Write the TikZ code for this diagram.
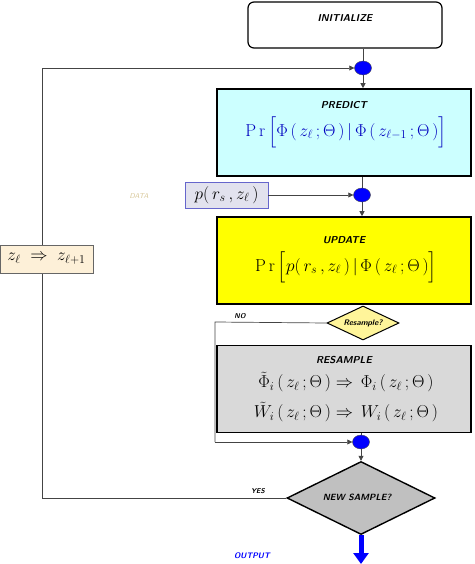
\documentclass[tikz,border=0pt]{standalone}
\usepackage{amsmath}
\usetikzlibrary{shapes.geometric,arrows.meta}
\definecolor{predfill}{HTML}{CCFFFF}
\definecolor{updfill}{HTML}{FFFF00}
\definecolor{resfill}{HTML}{D9D9D9}
\definecolor{diafill}{HTML}{FFF59A}
\definecolor{nsfill}{HTML}{C0C0C0}
\definecolor{pfill}{HTML}{E2E2EE}
\definecolor{pdraw}{HTML}{6666CC}
\definecolor{zfill}{HTML}{FDF0D8}
\definecolor{datacol}{HTML}{D8C89A}
\definecolor{linecol}{HTML}{444444}
\tikzset{
  bigbox/.style={draw=black, line width=1.6pt, minimum width=254pt, minimum height=87pt, inner sep=0pt},
  title/.style={font=\sffamily\bfseries\itshape\normalsize, inner sep=1pt},
  formula/.style={font=\LARGE, inner sep=0pt},
  dot/.style={ellipse, draw=black!70, fill=blue, minimum width=17pt, minimum height=14pt, inner sep=0pt},
  conn/.style={draw=linecol, line width=0.7pt},
  arr/.style={conn, -{Triangle[length=5pt,width=5pt]}},
  lab/.style={font=\sffamily\bfseries\itshape\scriptsize, inner sep=1pt},
}
\begin{document}
\begin{tikzpicture}[x=1pt,y=-1pt]
\useasboundingbox (0,0) rectangle (474,564);
% INITIALIZE
\node[draw=black, line width=1.2pt, rounded corners=6pt, minimum width=194pt, minimum height=46pt, inner sep=0pt] (init) at (345,25) {};
\node[title] (initT) at (345,18) {INITIALIZE};
% dots
\node[dot] (e1) at (363,68) {};
\node[dot] (e2) at (362,195) {};
\node[dot] (e3) at (361,442) {};
% PREDICT
\node[bigbox, fill=predfill] (pred) at (344,132.5) {};
\node[title] (predT) at (344,105) {PREDICT};
\node[formula, text=blue!75!black] (predF) at (346,132) {$\mathrm{P\,r}\,\Bigl[\Phi\,(\,z_\ell\,;\Theta\,)\,|\,\Phi\,(\,z_{\ell-1}\,;\Theta\,)\Bigr]$};
% UPDATE
\node[bigbox, fill=updfill] (upd) at (344,260.5) {};
\node[title] (updT) at (344,240) {UPDATE};
\node[formula] (updF) at (346,267) {$\mathrm{P\,r}\,\Bigl[p(\,r_s\,,z_\ell\,)\,|\,\Phi\,(\,z_\ell\,;\Theta\,)\Bigr]$};
% Resample diamond
\node[diamond, draw=black, line width=1pt, fill=diafill, aspect=2.1, minimum width=72pt, minimum height=34pt, inner sep=0pt] (rsq) at (363,323) {};
\node[lab, font=\sffamily\bfseries\itshape\footnotesize] (rsqT) at (363,323) {Resample?};
% RESAMPLE
\node[bigbox, fill=resfill] (res) at (344,389) {};
\node[title] (resT) at (344,360) {RESAMPLE};
\node[formula] (resF1) at (346,382) {$\tilde{\Phi}_i\,(\,z_\ell\,;\Theta\,)\Rightarrow\,\Phi_i\,(\,z_\ell\,;\Theta\,)$};
\node[formula] (resF2) at (346,412) {$\tilde{W}_i\,(\,z_\ell\,;\Theta\,)\Rightarrow\,W_i\,(\,z_\ell\,;\Theta\,)$};
% NEW SAMPLE diamond
\node[diamond, draw=black, line width=1.4pt, fill=nsfill, aspect=2.0, minimum width=148pt, minimum height=73pt, inner sep=0pt] (ns) at (361,498) {};
\node[lab, font=\sffamily\bfseries\itshape\small] (nsT) at (357,497) {NEW SAMPLE?};
% data box
\node[draw=pdraw, fill=pfill, line width=0.8pt, minimum width=83pt, minimum height=26pt, inner sep=0pt, font=\LARGE] (pbox) at (226.5,195) {$p(\,r_s\,,z_\ell\,)$};
\node[font=\sffamily\itshape\scriptsize, text=datacol] (data) at (139,196) {DATA};
% coordinates for loops
\coordinate (yl) at (42,498);
\coordinate (tl) at (42,68);
\coordinate (nl) at (215,322);
\coordinate (nb) at (215,442);
\coordinate (out) at (361,564);
% connectors
\draw[conn] (init.south -| e1) -- (e1.north);
\draw[arr] (e1.south) -- (e1.south |- pred.north);
\draw[conn] (pred.south -| e2) -- (e2.north);
\draw[arr] (pbox.east) -- (e2.west);
\draw[arr] (e2.south) -- (e2.south |- upd.north);
\draw[conn] (rsq.west) -- (nl) -- (nb);
\draw[arr] (nb) -- (e3.west);
\draw[conn] (res.south -| e3) -- (e3.north);
\draw[arr] (e3.south) -- (ns.north);
\draw[conn] (ns.west) -- (yl) -- (tl);
\draw[arr] (tl) -- (e1.west);
\draw[draw=blue, line width=5pt, -{Triangle[length=11pt,width=15pt]}] (ns.south) -- (out);
% z box over the loop line
\node[draw=black!60, fill=zfill, line width=0.6pt, minimum width=93pt, minimum height=28pt, inner sep=0pt, font=\LARGE] (zbox) at (46.5,259) {$z_\ell\;\Rightarrow\;z_{\ell+1}$};
% labels
\node[lab] (noT) at (240,316) {NO};
\node[lab] (yesT) at (258,491) {YES};
\node[lab, font=\sffamily\bfseries\itshape\footnotesize, text=blue] (outT) at (252,556) {OUTPUT};
\end{tikzpicture}
\end{document}
